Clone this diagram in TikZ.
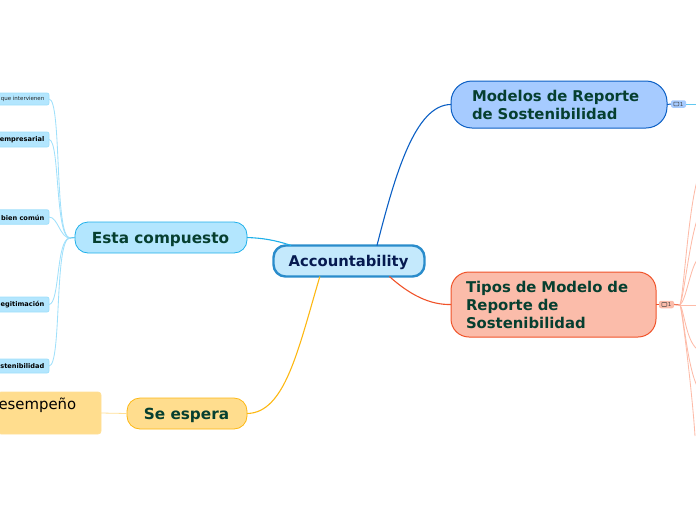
\documentclass[tikz,border=0pt]{standalone}
\usepackage{fontspec}
\setmainfont{DejaVu Sans}
\definecolor{txtgreen}{HTML}{063F30}
\definecolor{txtnavy}{HTML}{061A50}
\definecolor{acfill}{HTML}{C4E9FC}
\definecolor{acline}{HTML}{2A8CCB}
\definecolor{mofill}{HTML}{A6CBFF}
\definecolor{moline}{HTML}{0B5FC4}
\definecolor{tifill}{HTML}{FBBCAA}
\definecolor{tiline}{HTML}{F0532A}
\definecolor{tilite}{HTML}{FDBBA8}
\definecolor{esfill}{HTML}{B3E6FE}
\definecolor{esline}{HTML}{1FB0EA}
\definecolor{eslite}{HTML}{A0E0FB}
\definecolor{sefill}{HTML}{FFDD8E}
\definecolor{seline}{HTML}{FDB813}
\definecolor{selite}{HTML}{FFDF95}
\tikzset{
  mainbox/.style={draw,outer sep=0pt,inner sep=0pt,font=\fontsize{14.85}{18}\selectfont\bfseries,text=txtgreen},
  smallbox/.style={draw=eslite,fill=esfill,line width=0.8pt,rounded corners=2pt,outer sep=0pt,inner sep=0pt,anchor=east},
  smalltext/.style={anchor=east,inner sep=0pt,font=\fontsize{6.6}{8}\selectfont\bfseries,text=black},
  badge/.style={rounded corners=2pt,minimum width=15pt,minimum height=7.5pt,inner sep=0pt,outer sep=0pt,font=\fontsize{5.5}{6}\selectfont,text=black!75},
  sub/.style={line width=0.85pt},
}
\newcommand{\badgetext}{\tikz[baseline=0pt,x=1pt,y=1pt]\draw[line width=0.5pt,rounded corners=0.5pt] (0,0.4) rectangle (5,4.2);\,1}
\begin{document}
\begin{tikzpicture}[x=1pt,y=-1pt]
\useasboundingbox (0,0) rectangle (696,520);
\clip (0,0) rectangle (696,520);

% nodes
\node[mainbox,draw=acline,fill=acfill,line width=2.4pt,rounded corners=12pt,minimum width=151pt,minimum height=31pt] (acc) at (349,261) {};
\node[inner sep=0pt,font=\fontsize{14.8}{17}\selectfont\bfseries,text=txtnavy] (acct) at (348.5,262) {Accountability};
\node[mainbox,draw=moline,fill=mofill,line width=1pt,rounded corners=21pt,minimum width=216pt,minimum height=47pt,text width=174pt,inner xsep=21pt,align=left] (mod) at (559,104.5) {Modelos de Reporte\\de Sostenibilidad};
\node[mainbox,draw=tiline,fill=tifill,line width=1pt,rounded corners=18pt,minimum width=205pt,minimum height=65pt,text width=175pt,inner xsep=15pt,align=left] (tip) at (553.5,304.5) {Tipos de Modelo de\\Reporte de\\Sostenibilidad};
\node[mainbox,draw=esline,fill=esfill,line width=0.8pt,rounded corners=13pt,minimum width=172pt,minimum height=31pt] (est) at (161,237.5) {};
\node[inner sep=0pt,font=\fontsize{15.3}{18}\selectfont\bfseries,text=txtgreen] (estt) at (160.5,239.5) {Esta compuesto};
\node[mainbox,draw=seline,fill=sefill,line width=0.8pt,rounded corners=13pt,minimum width=120pt,minimum height=31pt] (sep) at (187,413.5) {};
\node[inner sep=0pt,font=\fontsize{15.3}{18}\selectfont\bfseries,text=txtgreen] (sept) at (186.5,415) {Se espera};

\node[draw=selite,fill=sefill,line width=0.8pt,rounded corners=3pt,outer sep=0pt,inner sep=0pt,minimum height=42pt,minimum width=103pt,anchor=east] (des) at (101,413) {};
\node[anchor=base east,inner sep=0pt,font=\fontsize{14.9}{17}\selectfont,text=black] (destxt) at (76.5,409.5) {esempeño};

% small left nodes
\node[smallbox,minimum width=51pt,minimum height=12pt] (s1) at (49,99) {};
\node[smalltext,font=\fontsize{5.5}{6}\selectfont,text=black!85] (s1t) at (44.5,99.3) {que intervienen};
\node[smallbox,minimum width=51pt,minimum height=15pt] (s2) at (49,139.5) {};
\node[smalltext] (s2t) at (44.5,140) {empresarial};
\node[smallbox,minimum width=51pt,minimum height=14.5pt] (s3) at (49,217) {};
\node[smalltext] (s3t) at (44.5,217.5) {bien común};
\node[smallbox,minimum width=51pt,minimum height=15pt] (s4) at (49,304.5) {};
\node[smalltext] (s4t) at (44.5,305) {egitimación};
\node[smallbox,minimum width=51pt,minimum height=14pt] (s5) at (49,366) {};
\node[smalltext] (s5t) at (44.5,366.5) {stenibilidad};

% badges
\node[badge,fill=mofill] (b1) at (678.5,104) {\badgetext};
\node[badge,fill=tifill] (b2) at (666.5,304.5) {\badgetext};

% free ends
\coordinate (hub) at (680,305);
\coordinate (hubL) at (70,238);
\coordinate (r0) at (700,104);
\coordinate (r1) at (697,181);
\coordinate (r2) at (697,220);
\coordinate (r3) at (697,260);
\coordinate (r4) at (700,305);
\coordinate (r5) at (697,349);
\coordinate (r6) at (697,386);
\coordinate (r7) at (695,436);

% main connectors
\draw[moline,line width=1.1pt] (acc.29) .. controls (395,175) and (415,104.5) .. (mod.west);
\draw[tiline,line width=1.1pt] (acc.-21) .. controls (410,295) and (430,305) .. (tip.west);
\draw[esline,line width=1.1pt] (est.east) .. controls (262,238) and (275,240) .. (acc.165);
\draw[seline,line width=1.1pt] (sep.east) .. controls (285,413) and (298,350) .. (acc.208);

% left sub connectors
\draw[esline!70,line width=1.2pt] (hubL) -- (est.west);
\draw[eslite,sub] (s1.east) .. controls (62,99) and (54,238) .. (hubL);
\draw[eslite,sub] (s2.east) .. controls (60,140) and (55,238) .. (hubL);
\draw[eslite,sub] (s3.east) .. controls (58,217) and (60,238) .. (hubL);
\draw[eslite,sub] (s4.east) .. controls (60,304) and (56,238) .. (hubL);
\draw[eslite,sub] (s5.east) .. controls (62,366) and (54,238) .. (hubL);

% se espera to desempeno
\draw[selite,line width=0.8pt] (des.east) -- (sep.west);

% right connectors
\draw[moline,line width=1pt] (mod.east) -- (b1.west);
\draw[esline!70,line width=0.8pt] (b1.east) -- (r0);
\draw[tiline,line width=1pt] (tip.east) -- (b2.west);
\draw[tiline!80,line width=1.2pt] (b2.east) -- (hub);
\draw[tilite,sub] (hub) .. controls (684,290) and (688,215) .. (r1);
\draw[tilite,sub] (hub) .. controls (684,295) and (689,245) .. (r2);
\draw[tilite,sub] (hub) .. controls (686,300) and (690,270) .. (r3);
\draw[tilite,sub] (hub) -- (r4);
\draw[tilite,sub] (hub) .. controls (684,310) and (686,340) .. (r5);
\draw[tilite,sub] (hub) .. controls (683,310) and (687,365) .. (r6);
\draw[tilite,sub] (hub) .. controls (682,310) and (692,390) .. (r7);
\end{tikzpicture}
\end{document}
